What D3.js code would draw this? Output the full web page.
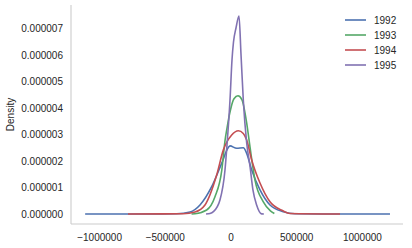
<!DOCTYPE html>
<html>
<head>
<meta charset="utf-8">
<script src="https://cdn.jsdelivr.net/npm/d3@7/dist/d3.min.js"></script>
<style>
  html, body { margin: 0; padding: 0; background: #fff; }
  svg text { font-family: "Liberation Sans", Arial, sans-serif; fill: #262626; }
</style>
</head>
<body>
<div id="chart"></div>
<script>
// series names, in drawing order
const years = ["1992", "1993", "1994", "1995"];
const colors = ["#4C72B0", "#55A868", "#C44E52", "#8172B2"];

// KDE curves: x (value), density (in 1e-6 units)
const x1992 = [-1110000, -540000, -413000, -312000, -236000, -147000, -71000, -20500, -7600, 43400, 93600, 119500, 157500, 220700, 296800, 398000, 487000, 677000, 1210000];
const d1992 = [0, 0.002, 0.008, 0.075, 0.34, 1.03, 1.91, 2.51, 2.57, 2.48, 2.50, 2.29, 1.66, 0.91, 0.34, 0.087, 0.008, 0.002, 0];

const x1993 = [-300000, -274000, -185000, -122000, -70000, -45000, -30000, -7600, 22800, 53300, 83700, 119500, 144600, 182600, 246000, 300000, 330000];
const d1993 = [0, 0.008, 0.15, 0.65, 1.66, 2.79, 3.25, 3.85, 4.35, 4.46, 4.31, 3.43, 2.53, 1.28, 0.46, 0.12, 0.02];

const x1994 = [-784000, -365000, -274000, -198000, -109000, -58000, 5300, 55800, 93600, 119500, 157500, 220700, 296800, 395000, 449000, 830000];
const d1994 = [0, 0.008, 0.075, 0.34, 1.47, 2.42, 2.98, 3.14, 3.04, 2.79, 2.04, 1.17, 0.46, 0.12, 0.02, 0];

const x1995 = [-190000, -160000, -134000, -84000, -45700, -30500, -7600, 7600, 19000, 38000, 60900, 76000, 93600, 119500, 144600, 167000, 195000, 233000, 250000];
const d1995 = [0, 0.02, 0.087, 0.53, 1.66, 2.60, 4.30, 5.81, 6.49, 7.02, 7.47, 6.04, 4.30, 2.68, 1.81, 0.91, 0.34, 0.006, 0];

const xTicks = [-1000000, -500000, 0, 500000, 1000000];
const yTicks = [0, 1, 2, 3, 4, 5, 6, 7];

const series = [
  { name: years[0], xs: x1992, ds: d1992 },
  { name: years[1], xs: x1993, ds: d1993 },
  { name: years[2], xs: x1994, ds: d1994 },
  { name: years[3], xs: x1995, ds: d1995 }
];

const width = 412, height = 248;
const plotL = 71, plotR = 403, plotT = 5, plotB = 224;

const x = d3.scaleLinear().domain([-1217600, 1309000]).range([plotL, plotR]);
const y = d3.scaleLinear().domain([-0.377, 7.887]).range([plotB, plotT]);
const color = d3.scaleOrdinal().domain(years).range(colors);

const svg = d3.select("#chart").append("svg")
  .attr("width", width)
  .attr("height", height);

// spines
svg.append("line")
  .attr("x1", plotL).attr("x2", plotL).attr("y1", plotT).attr("y2", plotB)
  .attr("stroke", "#cccccc").attr("stroke-width", 1.1);
svg.append("line")
  .attr("x1", plotL).attr("x2", plotR).attr("y1", plotB).attr("y2", plotB)
  .attr("stroke", "#cccccc").attr("stroke-width", 1.1);

// tick labels
const fmtX = d => d3.format("d")(d).replace("-", "\u2212");
svg.append("g").selectAll("text")
  .data(xTicks).enter().append("text")
  .attr("x", d => x(d))
  .attr("y", 241)
  .attr("text-anchor", "middle")
  .attr("font-size", 10)
  .text(fmtX);

svg.append("g").selectAll("text")
  .data(yTicks).enter().append("text")
  .attr("x", 63)
  .attr("y", d => y(d))
  .attr("dy", "0.35em")
  .attr("text-anchor", "end")
  .attr("font-size", 10)
  .text(d => (d / 1e6).toFixed(6));

svg.append("text")
  .attr("transform", `translate(14,${(plotT + plotB) / 2}) rotate(-90)`)
  .attr("text-anchor", "middle")
  .attr("font-size", 10)
  .text("Density");

// density curves
const line = d3.line()
  .x(p => x(p[0]))
  .y(p => y(p[1]))
  .curve(d3.curveMonotoneX);

svg.append("g").selectAll("path")
  .data(series).enter().append("path")
  .attr("d", s => line(s.xs.map((v, i) => [v, s.ds[i]])))
  .attr("fill", "none")
  .attr("stroke", s => color(s.name))
  .attr("stroke-width", 1.6);

// legend
const legend = svg.append("g").selectAll("g")
  .data(years).enter().append("g")
  .attr("transform", (d, i) => `translate(345,${20 + i * 15})`);
legend.append("line")
  .attr("x1", 0).attr("x2", 21)
  .attr("stroke", d => color(d)).attr("stroke-width", 1.6);
legend.append("text")
  .attr("x", 29).attr("dy", "0.35em")
  .attr("font-size", 10)
  .text(d => d);
</script>
</body>
</html>
